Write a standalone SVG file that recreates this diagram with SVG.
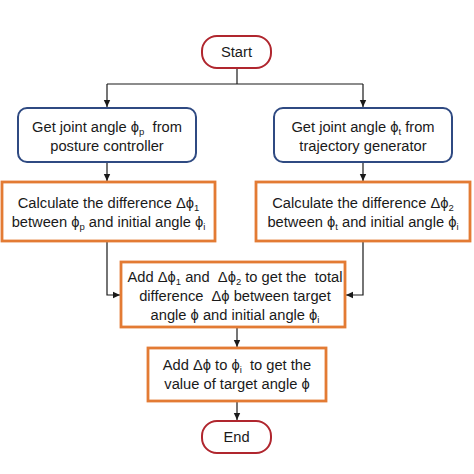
<svg xmlns="http://www.w3.org/2000/svg" width="474" height="474" viewBox="0 0 474 474" xml:space="preserve">
<style>
.t{font-family:"Liberation Sans",Arial,sans-serif;font-size:14.7px;fill:#1a1a1a;text-anchor:middle;white-space:pre}
.s{font-size:9.5px;baseline-shift:-3px}
.term{fill:#fff;stroke:#b0262e;stroke-width:2}
.blue{fill:#fff;stroke:#2f4a82;stroke-width:2}
.orange{fill:#fff;stroke:#e37b34;stroke-width:2.8}
.c{fill:none;stroke:#1a1a1a;stroke-width:1.2}
</style>
<defs>
<marker id="a" markerWidth="8" markerHeight="8" refX="7" refY="4" orient="auto" markerUnits="userSpaceOnUse">
<path d="M0,0.8 L7,4 L0,7.2 z" fill="#1a1a1a"/>
</marker>
</defs>
<rect width="474" height="474" fill="#fff"/>
<g id="connectors">
<path class="c" d="M237,68 V84"/>
<path class="c" d="M107,84 H363"/>
<path class="c" d="M107,84 V107" marker-end="url(#a)"/>
<path class="c" d="M363,84 V107" marker-end="url(#a)"/>
<path class="c" d="M107,162 V181" marker-end="url(#a)"/>
<path class="c" d="M363,162 V181" marker-end="url(#a)"/>
<path class="c" d="M107,241 V295 H120" marker-end="url(#a)"/>
<path class="c" d="M363,241 V295 H346" marker-end="url(#a)"/>
<path class="c" d="M237,327 V347" marker-end="url(#a)"/>
<path class="c" d="M237,401 V420" marker-end="url(#a)"/>
</g>
<g id="start">
<rect class="term" x="202" y="36" width="69" height="32" rx="15"/>
<text class="t" x="236.5" y="57">Start</text>
</g>
<g id="get-p">
<rect class="blue" x="18" y="108" width="178" height="54" rx="9"/>
<text class="t" x="107" y="132">Get joint angle ϕ<tspan class="s">p</tspan>  from</text>
<text class="t" x="107" y="151">posture controller</text>
</g>
<g id="get-t">
<rect class="blue" x="274" y="108" width="178" height="54" rx="9"/>
<text class="t" x="363" y="132">Get joint angle ϕ<tspan class="s">t</tspan> from</text>
<text class="t" x="363" y="151">trajectory generator</text>
</g>
<g id="calc1">
<rect class="orange" x="2" y="182" width="213" height="59"/>
<text class="t" x="108.5" y="208">Calculate the difference Δϕ<tspan class="s">1</tspan></text>
<text class="t" x="108.5" y="227">between ϕ<tspan class="s">p</tspan> and initial angle ϕ<tspan class="s">i</tspan></text>
</g>
<g id="calc2">
<rect class="orange" x="256" y="182" width="214" height="59"/>
<text class="t" x="363" y="208">Calculate the difference Δϕ<tspan class="s">2</tspan></text>
<text class="t" x="363" y="227">between ϕ<tspan class="s">t</tspan> and initial angle ϕ<tspan class="s">i</tspan></text>
</g>
<g id="add-total">
<rect class="orange" x="121" y="262" width="224" height="65"/>
<text class="t" x="235" y="282">Add Δϕ<tspan class="s">1</tspan> and  Δϕ<tspan class="s">2</tspan> to get the  total</text>
<text class="t" x="235" y="301">difference  Δϕ between target</text>
<text class="t" x="235" y="320">angle ϕ and initial angle ϕ<tspan class="s">i</tspan></text>
</g>
<g id="add-target">
<rect class="orange" x="148" y="348" width="178" height="53"/>
<text class="t" x="237" y="370">Add Δϕ to ϕ<tspan class="s">i</tspan>  to get the</text>
<text class="t" x="237" y="389">value of target angle ϕ</text>
</g>
<g id="end">
<rect class="term" x="202" y="421" width="69" height="32" rx="15"/>
<text class="t" x="236.5" y="442">End</text>
</g>
</svg>
